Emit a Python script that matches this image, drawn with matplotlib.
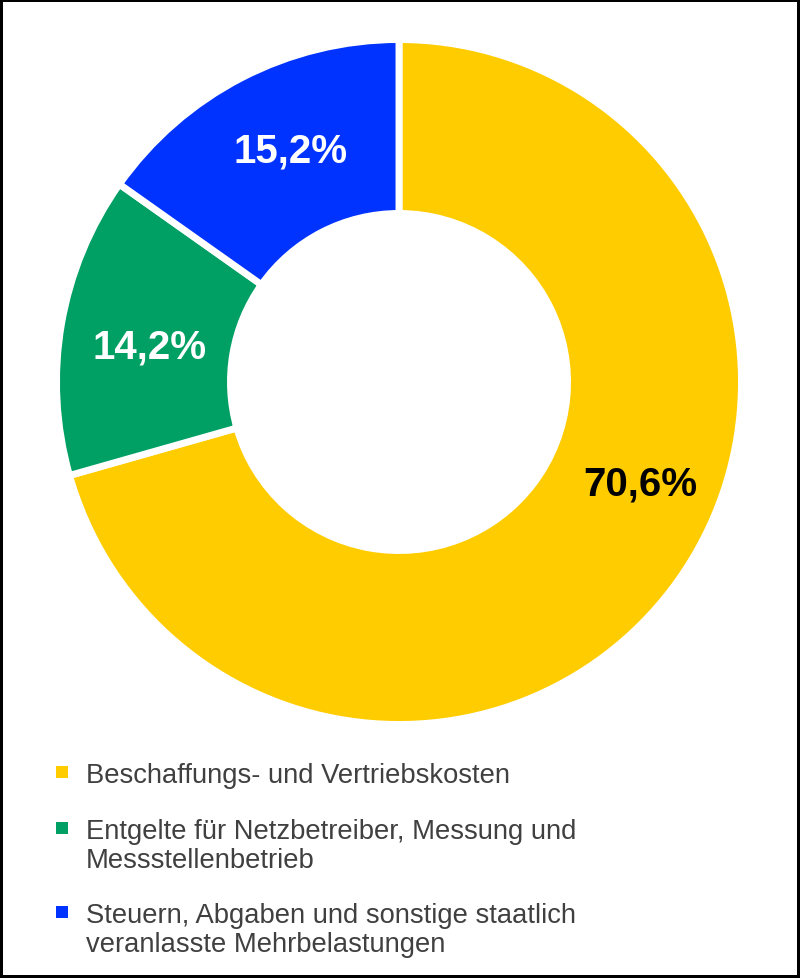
import numpy as np
import matplotlib.pyplot as plt

plt.rcParams['font.family'] = ['Liberation Sans', 'DejaVu Sans']

# Daten
categories = [
    "Beschaffungs- und Vertriebskosten",
    "Entgelte für Netzbetreiber, Messung und\nMessstellenbetrieb",
    "Steuern, Abgaben und sonstige staatlich\nveranlasste Mehrbelastungen",
]
shares = [70.6, 14.2, 15.2]
colors = ["#FFCC00", "#00A064", "#0033FF"]
label_colors = ["black", "white", "white"]
label_angle_shift = [14.4, 1.5, -2.2]   # Grad, relativ zur Segmentmitte
label_radius = [0.765, 0.735, 0.748]

W, H = 800, 979
fig = plt.figure(figsize=(W / 100, H / 100), dpi=100)
fig.patch.set_facecolor("white")
fig.patch.set_edgecolor("black")
fig.patch.set_linewidth(3)

# Ring
R = 342.5
cx, cy = 399, 383
ax = fig.add_axes([(cx - R) / W, (H - cy - R) / H, 2 * R / W, 2 * R / H])
wedges, _ = ax.pie(shares, colors=colors, startangle=90, counterclock=False,
                   radius=1.0,
                   wedgeprops=dict(width=0.508, edgecolor="white", linewidth=5))
ax.set_xlim(-1, 1)
ax.set_ylim(-1, 1)
ax.set_aspect("equal")
ax.axis("off")

for w, v, c, sh, r in zip(wedges, shares, label_colors, label_angle_shift, label_radius):
    ang = np.deg2rad((w.theta1 + w.theta2) / 2 + sh)
    ax.text(r * np.cos(ang), r * np.sin(ang),
            f"{v:.1f}%".replace(".", ","), ha="center", va="center",
            fontsize=29, fontweight="bold", color=c)

# Legende
lax = fig.add_axes([0, 0, 1, 1])
lax.set_xlim(0, W)
lax.set_ylim(H, 0)
lax.axis("off")
first_line_y = [773, 829, 913]
line_step = 29
for y, lab, col in zip(first_line_y, categories, colors):
    lax.scatter([62], [y], marker="s", s=80, color=col, linewidths=0)
    for k, line in enumerate(lab.split("\n")):
        lax.text(86, y + 10 + k * line_step, line, ha="left", va="baseline",
                 fontsize=19.7, color="#404040")

fig.savefig("out.png", dpi=100)
